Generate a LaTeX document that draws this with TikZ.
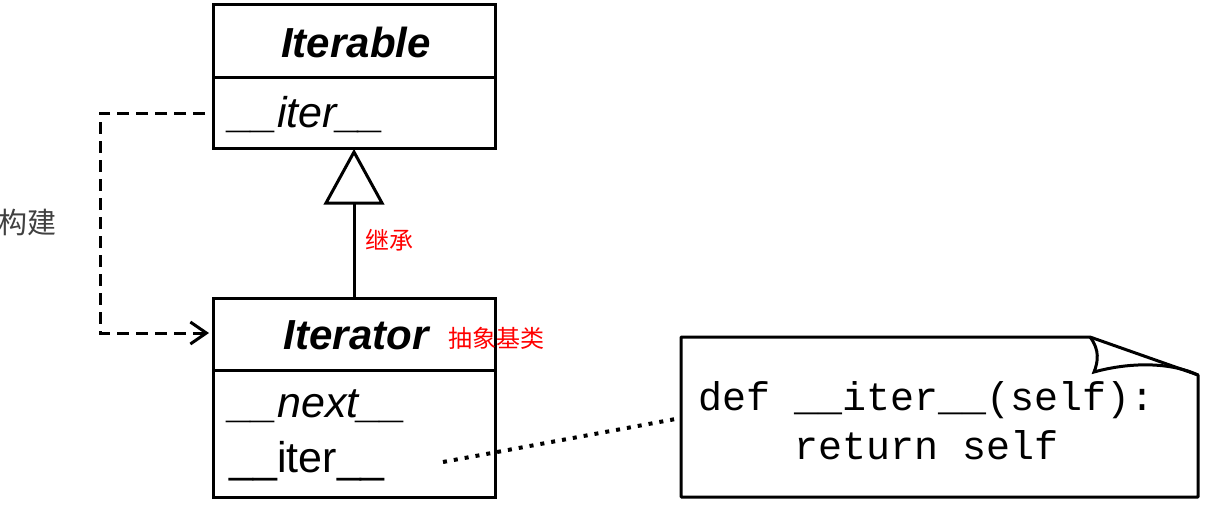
\documentclass[tikz,border=0pt]{standalone}
\usepackage{fontspec}
\setmainfont{Liberation Sans}
\newfontfamily\cjk{Noto Sans CJK SC}
\newfontfamily\codefont{Liberation Mono}
\usetikzlibrary{arrows.meta}
\begin{document}
\begin{tikzpicture}[x=1pt,y=-1pt,
  box/.style={draw,line width=3pt},
  ttl/.style={font=\fontsize{42}{42}\selectfont\bfseries\itshape},
  mem/.style={font=\fontsize{43}{43}\selectfont, anchor=west},
  red/.style={text=red,font=\cjk\fontsize{24}{24}\selectfont}]
\useasboundingbox (0,0) rectangle (1212,511);
\fill[white] (0,0) rectangle (1212,511);
% Iterable
\draw[box] (213,5) rectangle (495,148);
\draw[line width=3pt] (213,77) -- (495,77);
\node[ttl] (t1) at (356,42) {Iterable};
\node[mem,font=\fontsize{43}{43}\selectfont\itshape] (m1) at (226,115) {\_\_iter\_\_};
% Iterator
\draw[box] (213,298) rectangle (495,497);
\draw[line width=3pt] (213,370) -- (495,370);
\node[ttl] (t2) at (356,335) {Iterator};
\node[mem,font=\fontsize{43}{43}\selectfont\itshape] (m2) at (226,406) {\_\_next\_\_};
\node[mem] (m3) at (226,461) {\_\_iter\_\_};
% inheritance
\coordinate (apex) at (354,152);
\coordinate (base) at (354,203);
\coordinate (top2) at (354,298);
\draw[line width=3pt,fill=white] (apex) -- (382,203) -- (326,203) -- cycle;
\draw[line width=3pt] (base) -- (top2);
\node[red,anchor=west] (l1) at (362,240) {继承};
\node[red,anchor=west] (l2) at (445,338) {抽象基类};
% dashed build
\coordinate (d1) at (205,113);
\coordinate (d2) at (209,333);
\draw[line width=3pt,dash pattern=on 12pt off 7pt,-{Straight Barb[length=16pt,width=22pt,line width=3pt]}]
  (d1) -- (100,113) -- (100,333) -- (d2);
\node[text=black!75,font=\cjk\fontsize{29}{29}\selectfont,anchor=west] (l3) at (-5,222) {构建};
% note
\draw[line width=3pt,line join=round] (681,337) -- (1090,337) -- (1198,375) -- (1198,497) -- (681,497) -- cycle;
\draw[line width=3pt] (1090,337) .. controls (1100,350) and (1098,362) .. (1094,372) .. controls (1130,362) and (1170,362) .. (1198,375);
\node[anchor=west,font=\codefont\fontsize{40}{40}\selectfont] (c1) at (695,400) {def \_\_iter\_\_(self):};
\node[anchor=west,font=\codefont\fontsize{40}{40}\selectfont] (c2) at (791,445) {return self};
\coordinate (n1) at (681,418);
\coordinate (n0) at (443,462);
\draw[line width=4pt,dash pattern=on 4pt off 7pt] (n0) -- (n1);
\end{tikzpicture}
\end{document}
